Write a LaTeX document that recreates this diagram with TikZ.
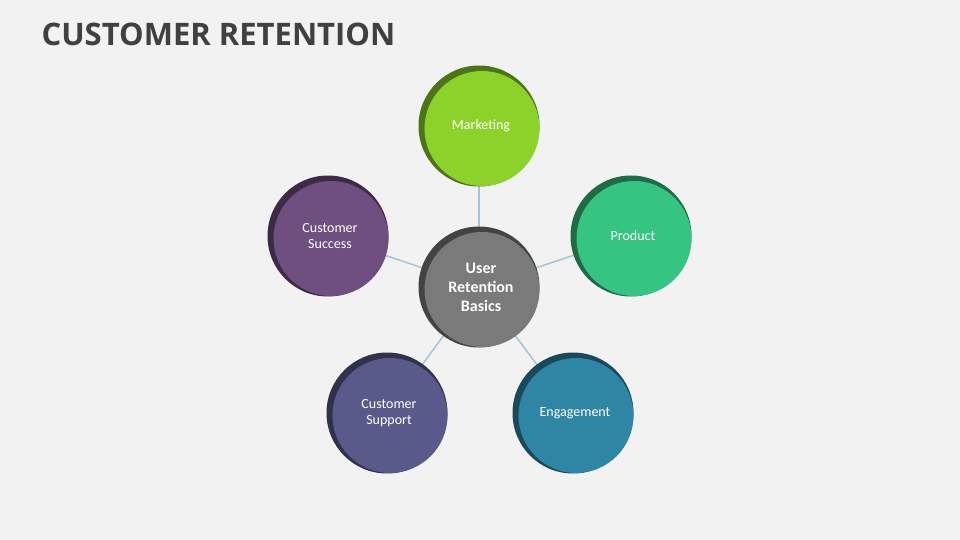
\documentclass[tikz,border=0pt]{standalone}
\usepackage{fontspec}
\setmainfont{Carlito}
\newfontfamily\titlefont{Open Sans}
\definecolor{bg}{HTML}{F2F2F2}
\definecolor{cmark}{HTML}{8CD22B}
\definecolor{cprod}{HTML}{35C481}
\definecolor{ceng}{HTML}{2F86A4}
\definecolor{csup}{HTML}{5A5A8A}
\definecolor{csuc}{HTML}{6F4F7F}
\definecolor{ccen}{HTML}{7A7A7A}
\definecolor{conn}{HTML}{A8C3D5}
\begin{document}
\begin{tikzpicture}[x=1pt,y=-1pt,
  bub/.style={circle,minimum size=120pt,inner sep=0pt,text=white,align=center,font=\fontsize{14}{16}\selectfont},
  lnk/.style={draw=conn,line width=1.5pt}]
\fill[bg] (0,0) rectangle (960,540);
\useasboundingbox (0,0) rectangle (960,540);
\node[anchor=west,text=black!75,font=\titlefont\bfseries\fontsize{31}{34}\selectfont] (t) at (38,34) {CUSTOMER RETENTION};
\coordinate (pc) at (479,287);
\coordinate (pm) at (479,126);
\coordinate (pp) at (631,236);
\coordinate (pe) at (573,413);
\coordinate (ps) at (387,413);
\coordinate (pu) at (328,236);
\foreach \p in {pm,pp,pe,ps,pu} \draw[lnk] (pc) -- (\p);
\foreach \p/\c in {pc/ccen,pm/cmark,pp/cprod,pe/ceng,ps/csup,pu/csuc}{
  \fill[\c!55!black] (\p) circle (60.5);
  \fill[\c] ([shift={(3,2.5)}]\p) circle (57.5);
}
\node[bub,font=\bfseries\fontsize{16}{19}\selectfont] (c) at ([shift={(2,0)}]pc) {User\\Retention\\Basics};
\node[bub] (m) at ([shift={(2,0)}]pm) {Marketing};
\node[bub] (p) at ([shift={(2,0)}]pp) {Product};
\node[bub] (e) at ([shift={(2,0)}]pe) {Engagement};
\node[bub] (s) at ([shift={(2,0)}]ps) {Customer\\Support};
\node[bub] (u) at ([shift={(2,0)}]pu) {Customer\\Success};
\end{tikzpicture}
\end{document}
